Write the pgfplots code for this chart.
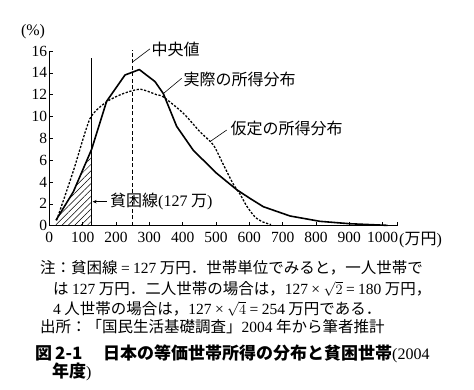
\documentclass[border=0pt]{standalone}
\usepackage{fontspec}
\setmainfont{Liberation Serif}
\newfontfamily\jp{Noto Sans CJK JP}
\newfontfamily\lat{Liberation Serif}
\usepackage{pgfplots}
\pgfplotsset{compat=1.18}
\usetikzlibrary{patterns.meta,arrows.meta}
\newcommand\fs[1]{\fontsize{#1}{#1}\selectfont}
\newcommand\gap{\hspace{0.22em}}
\begin{document}
\begin{tikzpicture}
\path[use as bounding box] (0pt,0pt) rectangle (474pt,-389pt);
\begin{axis}[
  at={(49.3pt,-225.7pt)}, anchor=south west,
  scale only axis, width=348.4pt, height=174.7pt,
  xmin=0, xmax=1045, ymin=0, ymax=16,
  axis x line*=bottom, axis y line*=left,
  xtick={0,100,...,1000}, ytick={0,2,...,16},
  extra x ticks={1045}, extra x tick labels={},
  tick align=inside, major tick length=4pt,
  tick style={black, line width=0.6pt},
  axis line style={line width=0.8pt},
  ticklabel style={font=\lat\fs{15.5}},
  xticklabel style={inner sep=1pt, yshift=-5pt},
  yticklabel style={inner sep=2pt},
  /pgf/number format/assume math mode=true,
  /pgf/number format/1000 sep={},
  clip=false,
]
% hatched area under actual distribution up to poverty line
\addplot[draw=none, pattern={Lines[angle=45,distance=4.5pt,line width=0.5pt]}]
  coordinates {(20,0.5)(72,3.1)(127,7.0)} \closedcycle;
% poverty line
\addplot[black, line width=0.7pt] coordinates {(127,0)(127,15.4)};
% median
\addplot[black, line width=0.7pt, dash pattern=on 4pt off 2.5pt] coordinates {(250,0)(250,16.1)};
% actual distribution
\addplot[black, line width=1.6pt, line join=round] coordinates {
 (20,0.5)(72,3.1)(127,7.0)(172,11.4)(227,13.8)(270,14.3)(317,13.2)(342,12.1)
 (382,9.1)(432,6.9)(502,4.8)(562,3.3)(602,2.5)(642,1.74)(722,0.89)(812,0.4)
 (902,0.18)(1015,0.03)};
% hypothetical distribution
\addplot[black, line width=1.3pt, dash pattern=on 2.2pt off 1.6pt, smooth, tension=0.4] coordinates {
 (22,0.5)(72,5.0)(122,9.8)(172,11.35)(222,12.1)(272,12.5)(322,12.0)(342,11.8)
 (402,10.3)(452,8.6)(492,7.4)(522,5.6)(552,3.8)(572,2.9)(592,1.8)(617,0.8)
 (640,0.35)(665,0.1)};
% annotations
\draw[line width=0.6pt] (axis cs:250,15.0) -- (axis cs:302,16.2);
\node[anchor=west, inner sep=0pt, font=\jp\fs{16}] at (axis cs:306,16.15) {中央値};
\draw[line width=0.6pt] (axis cs:342,12.1) -- (axis cs:397,13.5);
\node[anchor=west, inner sep=0pt, font=\jp\fs{16}] at (axis cs:402,13.35) {実際の所得分布};
\draw[line width=0.6pt] (axis cs:482,7.7) -- (axis cs:532,8.76);
\node[anchor=west, inner sep=0pt, font=\jp\fs{16}] at (axis cs:543,8.9) {仮定の所得分布};
\draw[line width=0.6pt, -{Stealth[length=4pt,width=3.5pt]}] (axis cs:172,2.2) -- (axis cs:130,2.2);
\node[anchor=west, inner sep=0pt, font=\jp\fs{16}] at (axis cs:182,2.2) {貧困線{\lat(127\gap}万{\lat)}};
\end{axis}
\node[font=\lat\fs{16}] at (33pt,-32pt) {(\%)};
\node[anchor=west, inner sep=0pt, font=\jp\fs{16}] at (399pt,-240pt) {{\lat(}万円{\lat)}};
% notes
\tikzset{note/.style={anchor=west, inner sep=0pt, text height=10pt, text depth=2pt, font=\jp\fs{15.5}},
         ttl/.style={anchor=west, inner sep=0pt, text height=11pt, text depth=3pt, font=\jp\bfseries\fs{17}}}
\node[note] at (40pt,-269pt) {注：貧困線{\lat\gap=\gap127\gap}万円．世帯単位でみると，一人世帯で};
\node[note] at (53pt,-290pt) {は{\lat\gap127\gap}万円．二人世帯の場合は，{\lat 127\gap×\gap\(\sqrt{2}\)\gap=\gap180\gap}万円，};
\node[note] at (53pt,-310pt) {{\lat 4\gap}人世帯の場合は，{\lat 127\gap×\gap\(\sqrt{4}\)\gap=\gap254\gap}万円である．};
\node[note] at (40pt,-328pt) {出所：「国民生活基礎調査」{\lat 2004\gap}年から筆者推計};
% caption
\node[ttl] at (35pt,-355pt) {図};
\node[ttl] at (55pt,-355pt) {2-1};
\node[ttl] at (103pt,-355pt) {日本の等価世帯所得の分布と貧困世帯{\lat\mdseries\fs{16}(2004}};
\node[ttl] at (52pt,-373pt) {年度{\lat\mdseries\fs{16})}};
\end{tikzpicture}
\end{document}
